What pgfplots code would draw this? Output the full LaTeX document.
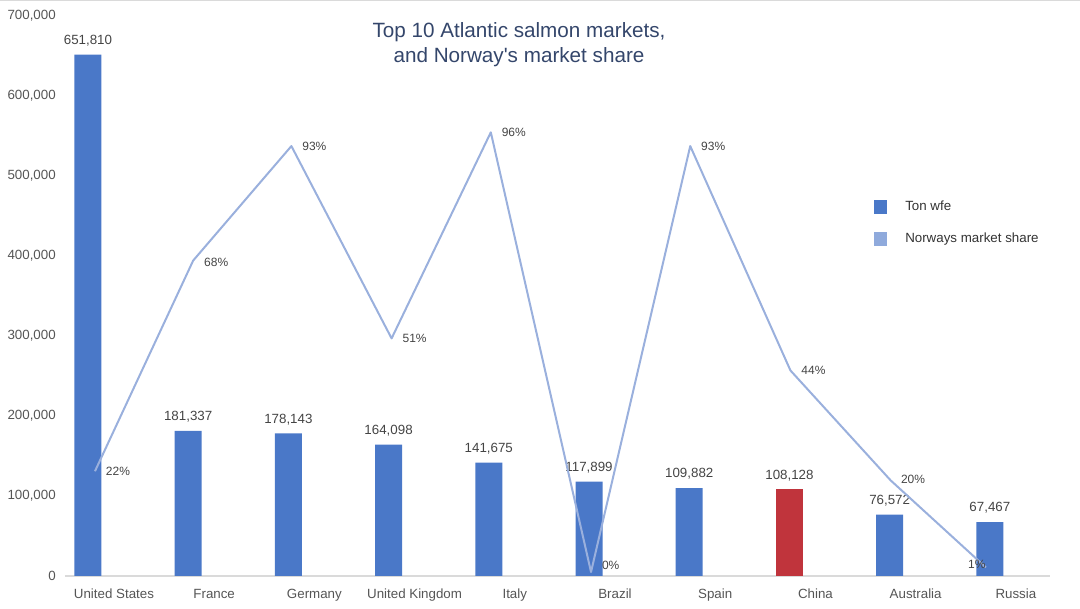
\documentclass[border=0pt]{standalone}
\usepackage{fontspec}
\setmainfont{Liberation Sans}
\usepackage{pgfplots}
\pgfplotsset{compat=1.18}
\definecolor{barblue}{HTML}{4A78C8}
\definecolor{barred}{HTML}{C0343C}
\definecolor{lineblue}{HTML}{9AB0DD}
\definecolor{legblue}{HTML}{8FAADC}
\definecolor{txtgray}{HTML}{555555}
\definecolor{lbltxt}{HTML}{444444}
\definecolor{titlecol}{HTML}{34466B}
\definecolor{axgray}{HTML}{DADADA}
\pgfplotsset{sqlegend/.style={legend image code/.code={\fill[##1] (0pt,-5.25pt) rectangle (9.75pt,5.25pt); \path (23.25pt,0pt);}}}
\begin{document}
\begin{tikzpicture}
\path[use as bounding box] (0,0) rectangle (810pt,456.75pt);
\draw[axgray, line width=1pt] (0,456.5pt) -- (810pt,456.5pt);
\begin{axis}[
  at={(48.75pt,24.75pt)}, anchor=south west,
  scale only axis, width=738.75pt, height=420pt,
  xmin=-0.229, xmax=9.6, ymin=0, ymax=700000,
  ytick={0,100000,200000,300000,400000,500000,600000,700000},
  scaled y ticks=false,
  /pgf/number format/.cd, fixed, precision=0, 1000 sep={,}, assume math mode=true, /pgfplots/.cd,
  xtick={0,1,2,3,4,5,6,7,8,9},
  xticklabels={United States,France,Germany,United Kingdom,Italy,Brazil,Spain,China,Australia,Russia},
  axis x line*=bottom, axis y line*=left,
  x axis line style={-, draw=axgray, line width=1pt},
  y axis line style={draw=none},
  major tick length=0pt,
  tick label style={font=\fontsize{10}{12}\selectfont, text=txtgray},
  xticklabel style={anchor=base, yshift=-17.2pt, xshift=19.5pt, inner sep=0pt},
  yticklabel style={anchor=east, inner sep=0pt, xshift=-6.75pt},
  ybar, bar width=20.25pt, bar shift=0pt,
  nodes near coords,
  nodes near coords style={font=\fontsize{10}{12}\selectfont, text=lbltxt, anchor=base, yshift=7.7pt, inner sep=0pt},
  legend cell align=left,
  legend style={at={(axis description cs:0.8213,0.672)}, anchor=north west, draw=none, fill=none, inner sep=0pt,
    font=\fontsize{10}{12}\selectfont, text=black!80, nodes={inner sep=0pt}, row sep=13.5pt},
  clip=false,
]
\addplot[fill=barblue, draw=none, sqlegend] coordinates {(0,651810) (1,181337) (2,178143) (3,164098) (4,141675) (5,117899) (6,109882) (8,76572) (9,67467)};
\addlegendentry{Ton wfe}
\addplot[fill=barred, draw=none, forget plot] coordinates {(7,108128)};
\addlegendimage{fill=legblue, draw=none, sqlegend}
\addlegendentry{Norways market share}
\end{axis}
\begin{axis}[
  at={(48.75pt,24.75pt)}, anchor=south west,
  scale only axis, width=738.75pt, height=420pt,
  xmin=-0.229, xmax=9.6, ymin=-0.873, ymax=121.4,
  hide axis, clip=false,
]
\addplot[lineblue, line width=1.5pt, line join=round, mark=none,
  point meta=y,
  visualization depends on={value \thisrow{dx} \as \dx},
  visualization depends on={value \thisrow{dy} \as \dy},
  nodes near coords={\pgfmathprintnumber[fixed,precision=0,assume math mode=true]{\pgfplotspointmeta}\%},
  every node near coord/.append style={font=\fontsize{9}{11}\selectfont, text=lbltxt, anchor=west, inner sep=0pt, xshift=\dx pt, yshift=\dy pt},
] table[x=x, y=p] {
x p dx dy
0.07 22 7.5 0
1.05 68 7.5 -1
2.03 93 7.5 0
3.03 51 7.5 0
4.02 96 7.5 0
5.02 0 7.5 5
6.01 93 7.5 0
7.01 44 7.5 0
8.01 20 7 1
8.96 1 -14 2
};
\end{axis}
\node[font=\fontsize{15.5}{18.75}\selectfont, text=titlecol, align=center] at (389.25pt,423.4pt) {Top 10 Atlantic salmon markets,\\and Norway\textquotesingle s market share};
\end{tikzpicture}
\end{document}
